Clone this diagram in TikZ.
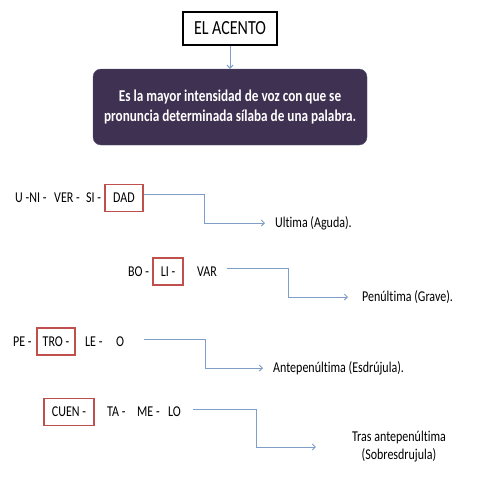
\documentclass[tikz,border=0pt]{standalone}
\usepackage{fontspec}
\setmainfont{Carlito}[Ligatures=NoCommon]
\usetikzlibrary{positioning,arrows.meta}
\definecolor{linkblue}{RGB}{127,158,199}
\definecolor{tonicred}{RGB}{192,80,77}
\definecolor{defpurple}{RGB}{63,49,81}
\tikzset{
    syl/.style={inner sep=0pt, anchor=west, yscale=1.25, font=\fontsize{12}{14}\selectfont},
    tonic/.style={draw=tonicred, line width=1.1pt, inner sep=0pt, minimum height=27pt/1.25, yscale=1.25, font=\fontsize{12}{14}\selectfont},
    kind/.style={inner sep=0pt, anchor=west, yscale=1.25, font=\fontsize{12}{14}\selectfont},
    title/.style={draw, line width=1.2pt, minimum width=94pt, minimum height=33pt/1.25, yscale=1.25, font=\fontsize{16}{18}\selectfont},
    defn/.style={fill=defpurple, draw=defpurple!70!linkblue, rounded corners=8pt, minimum width=274pt, minimum height=76pt/1.25, yscale=1.25, text=white, align=center, font=\bfseries\fontsize{13.2}{16.5}\selectfont},
    link/.style={draw=linkblue, line width=1pt, -{Straight Barb[length=3pt,width=6pt]}}
}
\begin{document}
\begin{tikzpicture}[x=1pt, y=-1pt]
    \useasboundingbox (0,0) rectangle (480,480);
    \node[title] (acento) at (230,28.5) {EL ACENTO};
    \node[defn] (def) at (230,107) {Es la mayor intensidad de voz con que se\\pronuncia determinada sílaba de una palabra.};
    % ---- aguda
    \node[syl] (uni) at (15,198) {U -NI -};
    \node[syl] (ver) at (54,198) {VER -};
    \node[syl] (si) at (86,198) {SI -};
    \node[tonic, minimum width=38pt] (dad) at (124,198) {DAD};
    \node[kind] (aguda) at (275,223) {Ultima (Aguda).};
    % ---- grave
    \node[syl] (bo) at (128,272) {BO -};
    \node[tonic, minimum width=30pt] (li) at (168,271.5) {LI -};
    \node[syl] (var) at (197,272) {VAR};
    \node[kind] (grave) at (362,297) {Penúltima (Grave).};
    % ---- esdrujula
    \node[syl] (pe) at (13,342) {PE -};
    \node[tonic, minimum width=38pt] (tro) at (56,341.5) {TRO -};
    \node[syl] (le) at (85,342) {LE -};
    \node[syl] (o) at (116,342) {O};
    \node[kind] (esdr) at (273,368) {Antepenúltima (Esdrújula).};
    % ---- sobresdrujula
    \node[tonic, minimum width=50pt] (cuen) at (69,412) {CUEN -};
    \node[syl] (ta) at (107,412) {TA -};
    \node[syl] (me) at (137,412) {ME -};
    \node[syl] (lo) at (168,412) {LO};
    \node[kind, anchor=center, align=center, font=\fontsize{12}{14.4}\selectfont] (tras) at (399,447) {Tras antepenúltima\\(Sobresdrujula)};
    % ---- connectors
    \draw[link] (acento.south) -- (def.north);
    \draw[link, shorten >=10pt] ([yshift=4pt]dad.east) -- ++(61,0) |- (aguda.west);
    \draw[link, shorten >=14pt] ([xshift=10pt, yshift=4pt]var.east) -- ++(61,0) |- (grave.west);
    \draw[link, shorten >=10pt] ([xshift=20pt, yshift=3pt]o.east) -- ++(61,0) |- (esdr.west);
    \draw[link, shorten >=36pt] ([xshift=12pt, yshift=3pt]lo.east) -- ++(63,0) |- (tras.west);
\end{tikzpicture}
\end{document}
